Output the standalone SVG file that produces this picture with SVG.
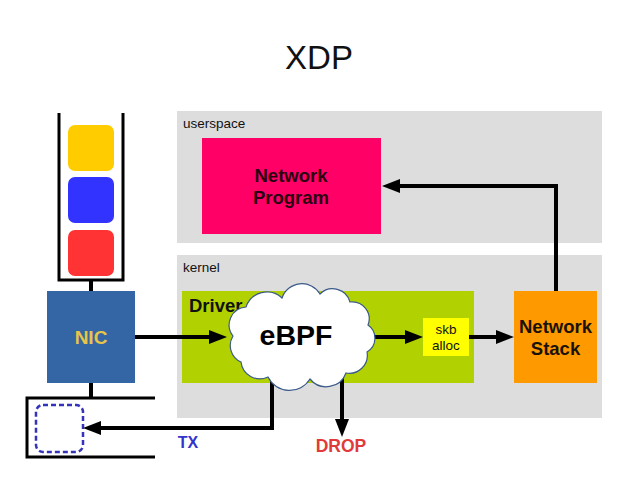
<svg xmlns="http://www.w3.org/2000/svg" width="638" height="479" viewBox="0 0 638 479">
<style>
text{font-family:"Liberation Sans",Arial,sans-serif}
.b{font-weight:bold}
.ln{fill:none;stroke:#000;stroke-width:4}
.thin{fill:none;stroke:#000;stroke-width:3}
</style>
<defs>
<marker id="ah" viewBox="0 0 18 14" markerWidth="18" markerHeight="14" refX="12" refY="7" orient="auto" markerUnits="userSpaceOnUse">
<path d="M0,0 L18,7 L0,14 z" fill="#000"/>
</marker>
</defs>
<rect width="638" height="479" fill="#fff"/>
<text x="319" y="69" font-size="33" text-anchor="middle" fill="#111">XDP</text>

<g id="userspace">
<rect x="177" y="111" width="425" height="132" fill="#dddddd"/>
<text x="183" y="128" font-size="13.5" fill="#111">userspace</text>
</g>
<g id="kernel">
<rect x="177" y="255" width="425" height="163" fill="#dddddd"/>
<text x="183" y="272" font-size="13.5" fill="#111">kernel</text>
</g>

<g id="queue">
<path class="thin" d="M59,113 V280 H123 V113"/>
<rect x="68" y="125" width="46" height="46" rx="7" fill="#ffcc00"/>
<rect x="68" y="177" width="46" height="46" rx="7" fill="#3333ff"/>
<rect x="68" y="230" width="46" height="46" rx="7" fill="#ff3333"/>
</g>

<g id="tx-queue">
<path class="thin" d="M155,398 H27 V457 H155"/>
<rect x="36" y="405" width="47" height="47" rx="7" fill="none" stroke="#3333bb" stroke-width="2.5" stroke-dasharray="5,3"/>
</g>

<g id="network-program">
<rect x="202" y="138" width="179" height="96" fill="#ff0066"/>
<text x="291" y="182" font-size="18.5" class="b" text-anchor="middle" fill="#2a0012">Network</text>
<text x="291" y="204" font-size="18.5" class="b" text-anchor="middle" fill="#2a0012">Program</text>
</g>

<g id="driver">
<rect x="182" y="291" width="292" height="92" fill="#b2d100"/>
<text x="189" y="312" font-size="18.5" class="b" fill="#111">Driver</text>
</g>

<g id="connectors">
<path class="ln" d="M91,280 V291"/>
<path class="ln" d="M91,383 V398"/>
<path class="ln" d="M135,337 H221" marker-end="url(#ah)"/>
<path class="ln" d="M373,337 H417" marker-end="url(#ah)"/>
<path class="ln" d="M469,337 H508" marker-end="url(#ah)"/>
<path class="ln" d="M556,291 V186 H388" marker-end="url(#ah)"/>
<path class="ln" d="M342,370 V431" marker-end="url(#ah)"/>
<path class="ln" d="M272,370 V428 H89" marker-end="url(#ah)"/>
</g>

<g id="nic">
<rect x="47" y="291" width="88" height="92" fill="#3465a4"/>
<text x="91" y="344" font-size="19" class="b" text-anchor="middle" fill="#e8c547">NIC</text>
</g>

<g id="ebpf">
<path d="M233,336 A18,18 0 0 1 246,307 A22,22 0 0 1 282,298 A21,21 0 0 1 320,294 A18,18 0 0 1 350,302 A17,17 0 0 1 368,325 A16,16 0 0 1 367,352 A18,18 0 0 1 346,373 A21,21 0 0 1 310,379 A24,24 0 0 1 268,377 A19,19 0 0 1 241,362 A18,18 0 0 1 233,336 Z" fill="#fff" stroke="#3a5a8a" stroke-width="1.2"/>
<text x="296" y="345" font-size="28.5" class="b" text-anchor="middle" fill="#000">eBPF</text>
</g>

<g id="skb-alloc">
<rect x="423" y="318" width="46" height="38" fill="#ffff00"/>
<text x="446" y="334" font-size="13.5" text-anchor="middle" fill="#111">skb</text>
<text x="446" y="350" font-size="13.5" text-anchor="middle" fill="#111">alloc</text>
</g>

<g id="network-stack">
<rect x="514" y="291" width="83" height="92" fill="#ff9900"/>
<text x="555.5" y="333" font-size="18.5" class="b" text-anchor="middle" fill="#1a1208">Network</text>
<text x="555.5" y="355" font-size="18.5" class="b" text-anchor="middle" fill="#1a1208">Stack</text>
</g>

<text x="188" y="448" font-size="16" class="b" text-anchor="middle" fill="#3333cc">TX</text>
<text x="341" y="452" font-size="17.5" class="b" text-anchor="middle" fill="#e03a3a">DROP</text>
</svg>
